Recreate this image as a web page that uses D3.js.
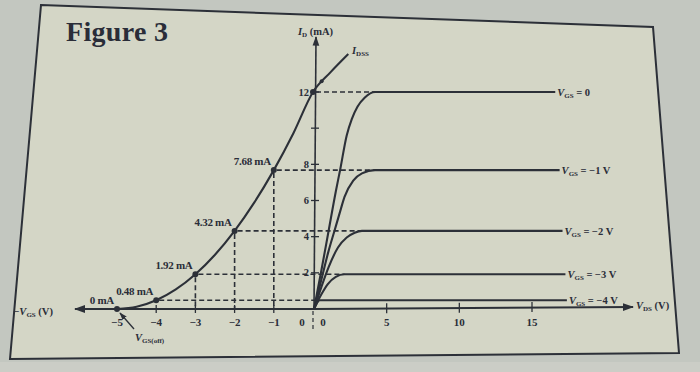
<!DOCTYPE html>
<html>
<head>
<meta charset="utf-8">
<script src="https://cdn.jsdelivr.net/npm/d3@7.9.0/dist/d3.min.js"></script>
<style>
  html, body { margin: 0; padding: 0; background: #c3c7c0; }
  svg { display: block; }
  text { font-family: "Liberation Serif", "DejaVu Serif", serif; font-weight: bold; fill: #2a2d38; }
</style>
</head>
<body>
<svg id="chart" width="700" height="372"></svg>
<script>
// transfer characteristic (ID vs VGS)
const transferVgs = [-5, -4.5, -4, -3.5, -3, -2.5, -2, -1.5, -1, -0.5, 0, 0.45, 0.9];
const transferId  = [0, 0.12, 0.48, 1.08, 1.92, 3.0, 4.32, 5.88, 7.68, 9.72, 12, 13.1, 14.1];

// marked points on the transfer curve
const markVgs = [-5, -4, -3, -2, -1, 0];
const markId = [0, 0.48, 1.92, 4.32, 7.68, 12];
const markLabels = ['0 mA', '0.48 mA', '1.92 mA', '4.32 mA', '7.68 mA', ''];
const markSatVds = [0, 0.4, 2.1, 3.3, 4.2, 4.2];  // where the dashed level meets the drain curve

// drain characteristics (ID vs VDS), one per VGS
const drainLabels = ['0', '\u22121 V', '\u22122 V', '\u22123 V', '\u22124 V'];
const drainVds = [
  [0, 0.5, 1.0, 1.5, 1.8, 2.25, 2.6, 3.0, 3.5, 4.2, 16.6],
  [0, 0.5, 1.0, 1.4, 1.8, 2.1, 2.7, 3.3, 4.2, 16.9],
  [0, 0.5, 1.0, 1.65, 2.25, 2.8, 3.3, 17.1],
  [0, 0.5, 0.95, 1.5, 2.1, 17.3],
  [0, 0.4, 17.4]
];
const drainId = [
  [0, 2.1, 4.3, 6.5, 7.7, 9.6, 10.5, 11.2, 11.7, 12, 12],
  [0, 1.6, 3.2, 4.3, 5.4, 6.2, 7.1, 7.5, 7.68, 7.68],
  [0, 1.2, 2.3, 3.4, 3.95, 4.22, 4.32, 4.32],
  [0, 0.8, 1.38, 1.78, 1.92, 1.92],
  [0, 0.48, 0.48]
];

const vgsTicks = [-5, -4, -3, -2, -1, 0];
const vdsTicks = [0, 5, 10, 15];
const idTicks = [2, 4, 6, 8, 10, 12];
const idTickLabels = ['2', '4', '6', '8', '', '12'];

const ink = '#2c3038';
const svg = d3.select('#chart');

// paper inside the photographed frame
const frame = [[41, 5], [653, 27], [679, 353], [10, 359]];
svg.append('rect')
  .attr('x', 0).attr('y', 362).attr('width', 700).attr('height', 10)
  .attr('fill', '#cbcdc6');
svg.append('polygon')
  .attr('points', frame.map(p => p.join(',')).join(' '))
  .attr('fill', '#d4d6c6')
  .attr('stroke', ink)
  .attr('stroke-width', 2);

const xg = d3.scaleLinear().domain([-5, 0]).range([117, 313]);
const xd = d3.scaleLinear().domain([0, 15]).range([314, 532]);
const y = d3.scaleLinear().domain([0, 12]).range([309, 92]);

const defs = svg.append('defs');
defs.append('marker')
  .attr('id', 'arrow')
  .attr('viewBox', '0 0 10 10')
  .attr('refX', 9).attr('refY', 5)
  .attr('markerWidth', 6).attr('markerHeight', 6)
  .attr('orient', 'auto-start-reverse')
  .append('path').attr('d', 'M0,1.5L10,5L0,8.5Z').attr('fill', ink);

svg.append('text')
  .attr('x', 66).attr('y', 41)
  .attr('font-size', 28)
  .attr('letter-spacing', 0.3)
  .text('Figure 3');

// axes
const y0 = y(0);
svg.append('line')
  .attr('x1', xd(0)).attr('x2', 75).attr('y1', y0).attr('y2', y0)
  .attr('stroke', ink).attr('stroke-width', 1.9)
  .attr('marker-end', 'url(#arrow)');
svg.append('line')
  .attr('x1', xd(0)).attr('x2', 633).attr('y1', y0).attr('y2', y0 - 2)
  .attr('stroke', ink).attr('stroke-width', 1.9)
  .attr('marker-end', 'url(#arrow)');
svg.append('line')
  .attr('x1', xd(0)).attr('x2', xd(0) + 2).attr('y1', y0).attr('y2', 37)
  .attr('stroke', ink).attr('stroke-width', 1.6)
  .attr('marker-end', 'url(#arrow)');
// dashed stub below the origin between the two zeros
svg.append('line')
  .attr('x1', xd(0) - 1).attr('x2', xd(0) - 1).attr('y1', y0 + 2).attr('y2', y0 + 20)
  .attr('stroke', ink).attr('stroke-width', 1.2).attr('stroke-dasharray', '4,3');

// ticks
svg.selectAll('.ytick').data(idTicks).join('line')
  .attr('x1', xd(0) - 3).attr('x2', xd(0) + 5)
  .attr('y1', d => y(d)).attr('y2', d => y(d))
  .attr('stroke', ink).attr('stroke-width', 1.3);
svg.selectAll('.ylab').data(idTicks).join('text')
  .attr('x', xd(0) - 5).attr('y', d => y(d) + 3.5)
  .attr('text-anchor', 'end').attr('font-size', 10.5)
  .text((d, i) => idTickLabels[i]);

svg.selectAll('.dtick').data(vdsTicks.slice(1)).join('line')
  .attr('x1', d => xd(d)).attr('x2', d => xd(d))
  .attr('y1', d => y0 - 5 - d * 0.13).attr('y2', d => y0 + 5 - d * 0.13)
  .attr('stroke', ink).attr('stroke-width', 1.3);
svg.selectAll('.dlab').data(vdsTicks).join('text')
  .attr('x', d => xd(d) + (d === 0 ? 9 : 0)).attr('y', y0 + 17)
  .attr('text-anchor', 'middle').attr('font-size', 11)
  .attr('font-family', '"DejaVu Sans Condensed", "Liberation Sans Narrow", sans-serif')
  .attr('font-weight', 'normal')
  .text(d => d);

svg.selectAll('.gtick').data(vgsTicks.slice(1, 5)).join('line')
  .attr('x1', d => xg(d)).attr('x2', d => xg(d))
  .attr('y1', y0 - 4).attr('y2', y0 + 4)
  .attr('stroke', ink).attr('stroke-width', 1.3);
svg.selectAll('.glab').data(vgsTicks).join('text')
  .attr('x', d => xg(d) - (d === 0 ? 11 : 0)).attr('y', y0 + 17)
  .attr('text-anchor', 'middle').attr('font-size', 11)
  .text(d => d === 0 ? '0' : '\u2212' + Math.abs(d));

// dashed guides
const dash = svg.append('g')
  .attr('stroke', ink).attr('stroke-width', 1.6)
  .attr('stroke-dasharray', '5,3').attr('fill', 'none');
markVgs.forEach((v, i) => {
  if (i === 0) return;
  dash.append('line')
    .attr('x1', xg(v) + 3).attr('x2', xd(markSatVds[i]))
    .attr('y1', y(markId[i])).attr('y2', y(markId[i]));
  if (v >= -3 && v <= -1) {
    dash.append('line')
      .attr('x1', xg(v)).attr('x2', xg(v))
      .attr('y1', y(markId[i]) + 3).attr('y2', y0);
  }
});

// transfer curve
const transferLine = d3.line()
  .x(d => xg(d[0])).y(d => y(d[1]))
  .curve(d3.curveMonotoneX);
svg.append('path')
  .datum(d3.zip(transferVgs, transferId))
  .attr('d', transferLine)
  .attr('fill', 'none').attr('stroke', ink).attr('stroke-width', 2.1);

svg.selectAll('.mark').data(markVgs).join('circle')
  .attr('cx', d => xg(d)).attr('cy', (d, i) => y(markId[i]))
  .attr('r', 3).attr('fill', ink);
svg.append('circle')
  .attr('cx', xg(0.22)).attr('cy', y(12.6)).attr('r', 2).attr('fill', ink);

svg.selectAll('.mlab').data(markLabels).join('text')
  .attr('x', (d, i) => xg(markVgs[i]) - 3)
  .attr('y', (d, i) => y(markId[i]) - 5)
  .attr('text-anchor', 'end').attr('font-size', 11)
  .attr('letter-spacing', -0.3)
  .text(d => d);

// drain curves
const drainLine = d3.line()
  .x(d => xd(d[0])).y(d => y(d[1]))
  .curve(d3.curveMonotoneX);
drainVds.forEach((vds, k) => {
  const pts = d3.zip(vds, drainId[k]);
  svg.append('path')
    .datum(pts)
    .attr('d', drainLine)
    .attr('fill', 'none').attr('stroke', ink).attr('stroke-width', 2.1);
  const last = pts[pts.length - 1];
  const t = svg.append('text')
    .attr('x', xd(last[0]) + 2).attr('y', y(last[1]) + 4)
    .attr('font-size', 10.5);
  t.append('tspan').attr('font-style', 'italic').text('V');
  t.append('tspan').attr('font-size', 7).attr('dy', 2).text('GS');
  t.append('tspan').attr('dy', -2).text(' = ' + drainLabels[k]);
});

// axis titles
function subLabel(x, yy, main, sub, rest, anchor) {
  const t = svg.append('text').attr('x', x).attr('y', yy)
    .attr('font-size', 10.5).attr('text-anchor', anchor || 'start');
  t.append('tspan').attr('font-style', 'italic').text(main);
  t.append('tspan').attr('font-size', 7).attr('dy', 2).text(sub);
  t.append('tspan').attr('dy', -2).text(rest);
  return t;
}
subLabel(298, 35, 'I', 'D', ' (mA)');
subLabel(352, 54, 'I', 'DSS', '');
subLabel(636, 309, 'V', 'DS', ' (V)');
subLabel(13, 315, '\u2212V', 'GS', ' (V)');
subLabel(135, 341, 'V', 'GS(off)', '');

// pointer to VGS(off)
svg.append('line')
  .attr('x1', 134).attr('y1', 329).attr('x2', xg(-5) + 3).attr('y2', y0 + 4)
  .attr('stroke', ink).attr('stroke-width', 1.3)
  .attr('marker-end', 'url(#arrow)');
</script>
</body>
</html>
